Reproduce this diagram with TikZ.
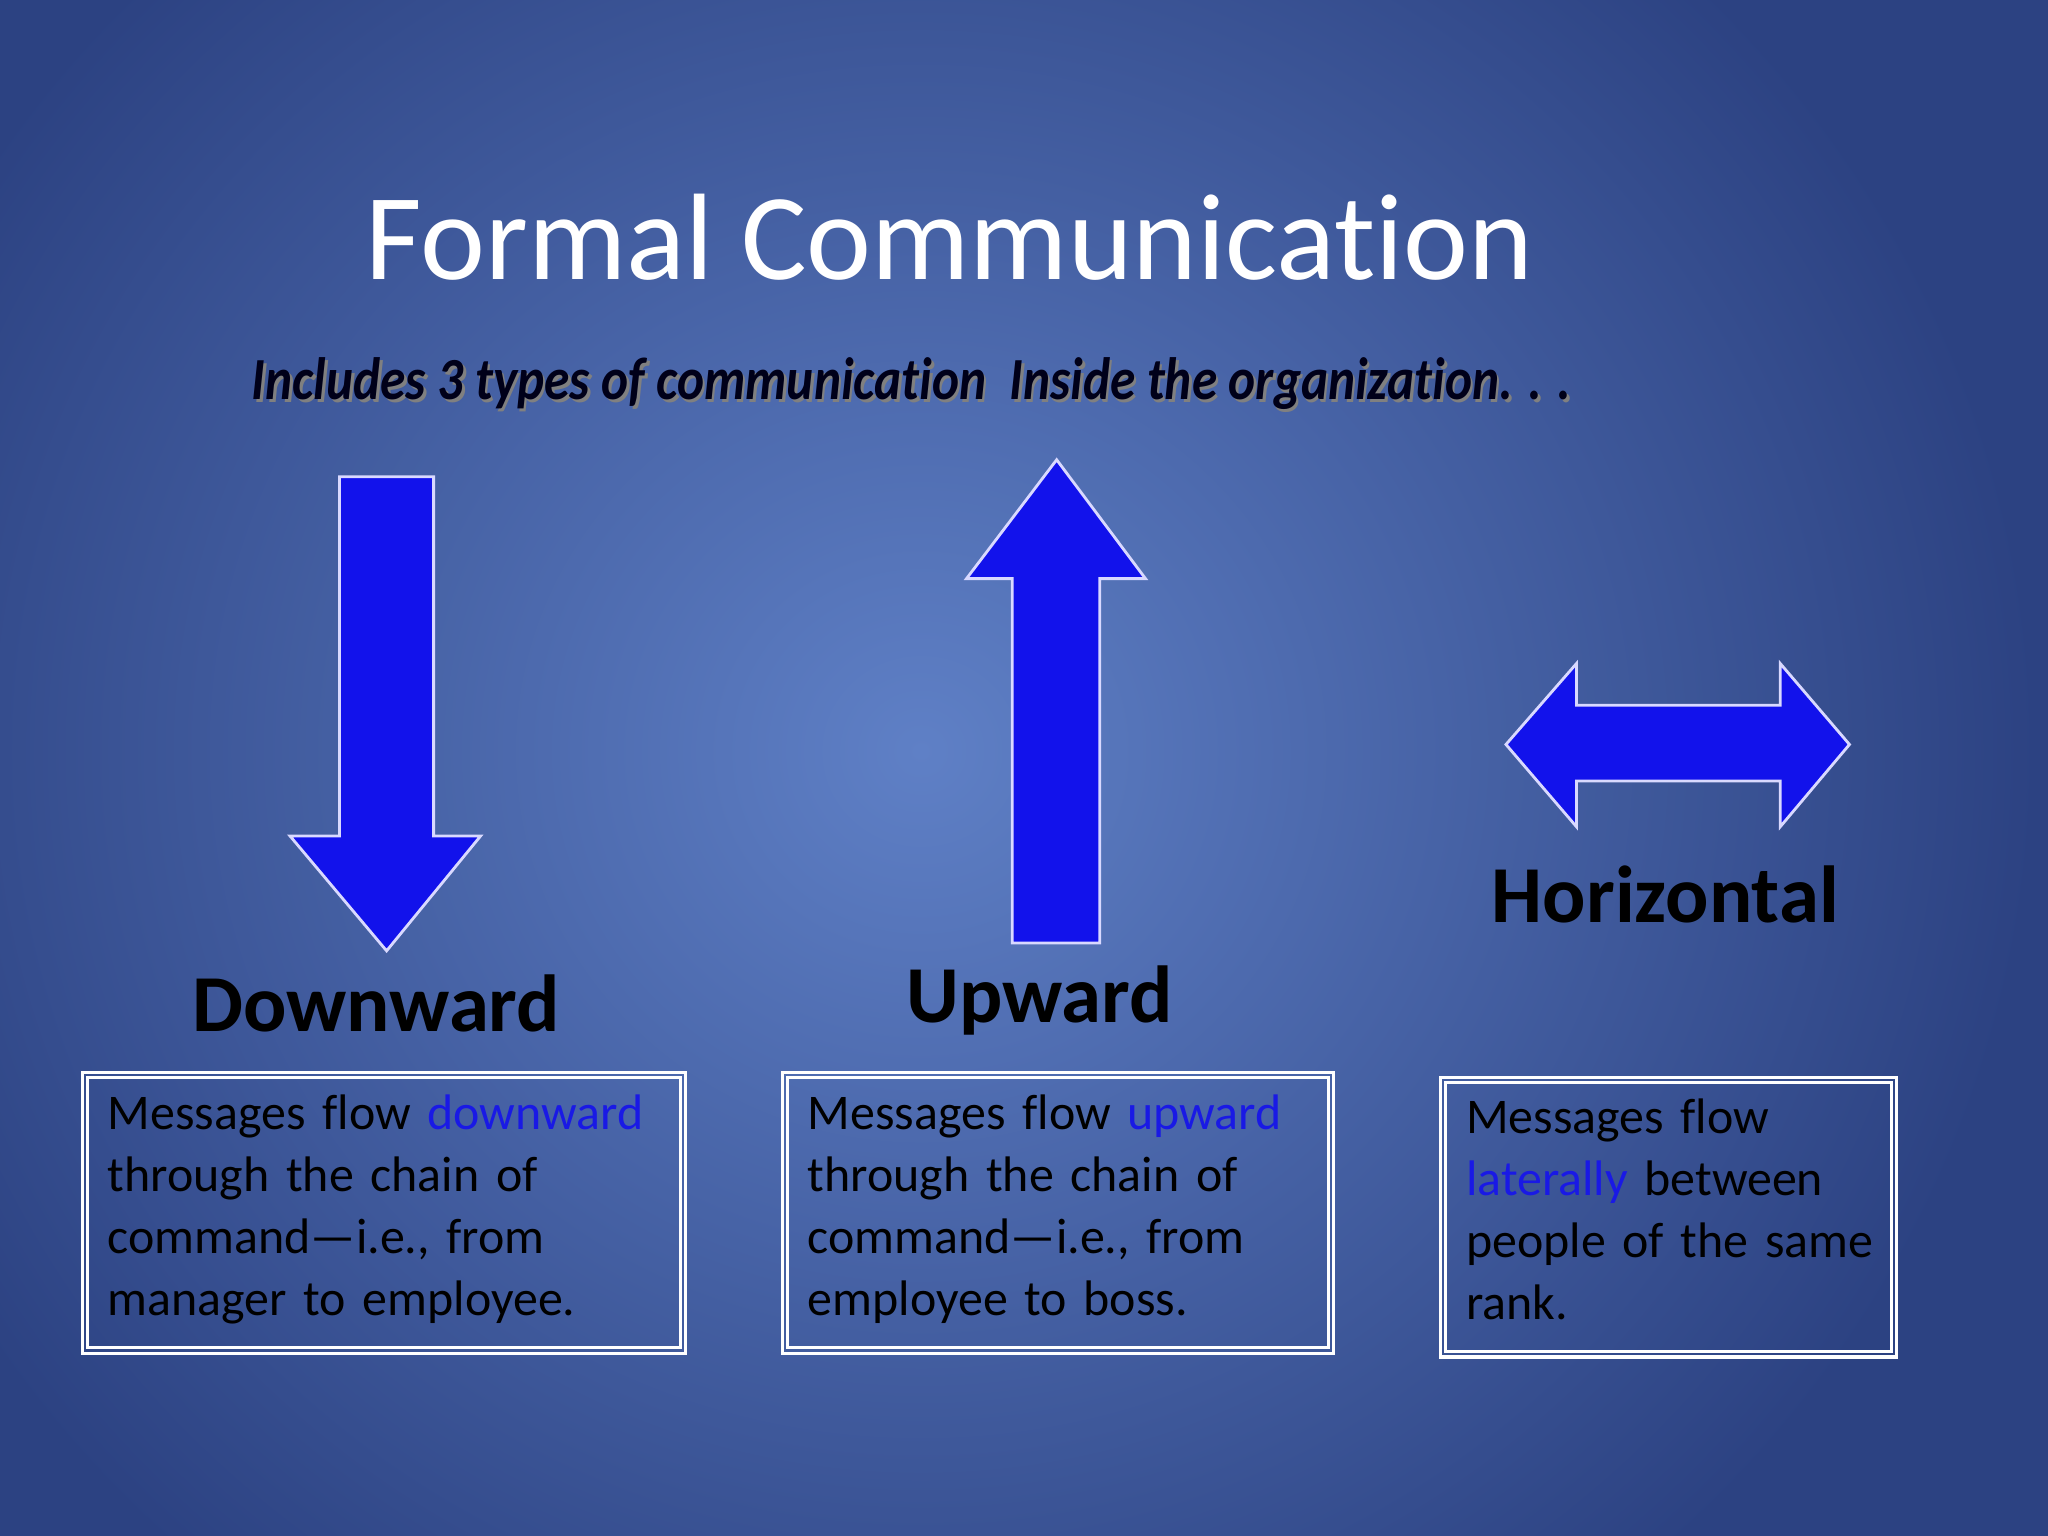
\documentclass[tikz,border=0pt]{standalone}
\usepackage{fontspec}
\setmainfont[Ligatures=NoCommon]{Carlito}
\begin{document}
\begin{tikzpicture}[x=0.01306cm,y=-0.01306cm,
  arr/.style={fill={rgb,255:red,18;green,18;blue,235},draw=white!85!blue,line width=0.8pt,line join=miter},
  lbl/.style={font=\fontsize{23}{28}\selectfont\bfseries,text=black},
  boxtxt/.style={anchor=north west,align=left,text width=#1,font=\fontsize{14.2}{17.6}\selectfont,text=black,inner sep=0pt},
  frame/.style={draw=white,line width=0.9pt}]
\useasboundingbox (0,0) rectangle (1568,1176);
\fill[fill={rgb,255:red,44;green,66;blue,130}] (0,0) rectangle (1568,1176);
\shade[inner color={rgb,255:red,95;green,128;blue,198},outer color={rgb,255:red,44;green,66;blue,130}] (-150,-250) rectangle (1560,1400);
\node (title) at (727,182) {\fontsize{35}{42}\selectfont\color{white}Formal Communication};
\node (subs) at (700,296) {\fontsize{17}{20}\selectfont\bfseries\itshape\color{black!50}\scalebox{0.86}[1]{Includes 3 types of communication\ \ Inside the organization. . .}};
\node (sub) at (698,294) {\fontsize{17}{20}\selectfont\bfseries\itshape\color{black!90!blue}\scalebox{0.86}[1]{Includes 3 types of communication\ \ Inside the organization. . .}};
\draw[arr] (260,365) -- (332,365) -- (332,640) -- (368,640) -- (296,728) -- (222,640) -- (260,640) -- cycle;
\draw[arr] (775,722) -- (842,722) -- (842,443) -- (877,443) -- (809,352) -- (740,443) -- (775,443) -- cycle;
\draw[arr] (1153,570) -- (1207,508) -- (1207,540) -- (1363,540) -- (1363,508) -- (1416,570) -- (1363,633) -- (1363,598) -- (1207,598) -- (1207,633) -- cycle;
\node[lbl] (ldown) at (288,768) {Downward};
\node[lbl] (lup) at (796,766) {Upward};
\node[lbl] (lhor) at (1275,685) {Horizontal};
\draw[frame] (63,821) rectangle (525,1036);
\draw[frame] (67,825) rectangle (521,1032);
\node[boxtxt=430] (t1) at (82,838) {Messages flow {\color[rgb]{0.1,0.1,0.9}downward}\\through the chain of\\command---i.e., from\\manager to employee.};
\draw[frame] (599,821) rectangle (1021,1036);
\draw[frame] (603,825) rectangle (1017,1032);
\node[boxtxt=400] (t2) at (618,838) {Messages flow {\color[rgb]{0.1,0.1,0.9}upward}\\through the chain of\\command---i.e., from\\employee to boss.};
\draw[frame] (1103,825) rectangle (1452,1039);
\draw[frame] (1107,829) rectangle (1448,1035);
\node[boxtxt=330] (t3) at (1122,841) {Messages flow\\{\color[rgb]{0.1,0.1,0.9}laterally} between\\people of the same\\rank.};
\end{tikzpicture}
\end{document}
